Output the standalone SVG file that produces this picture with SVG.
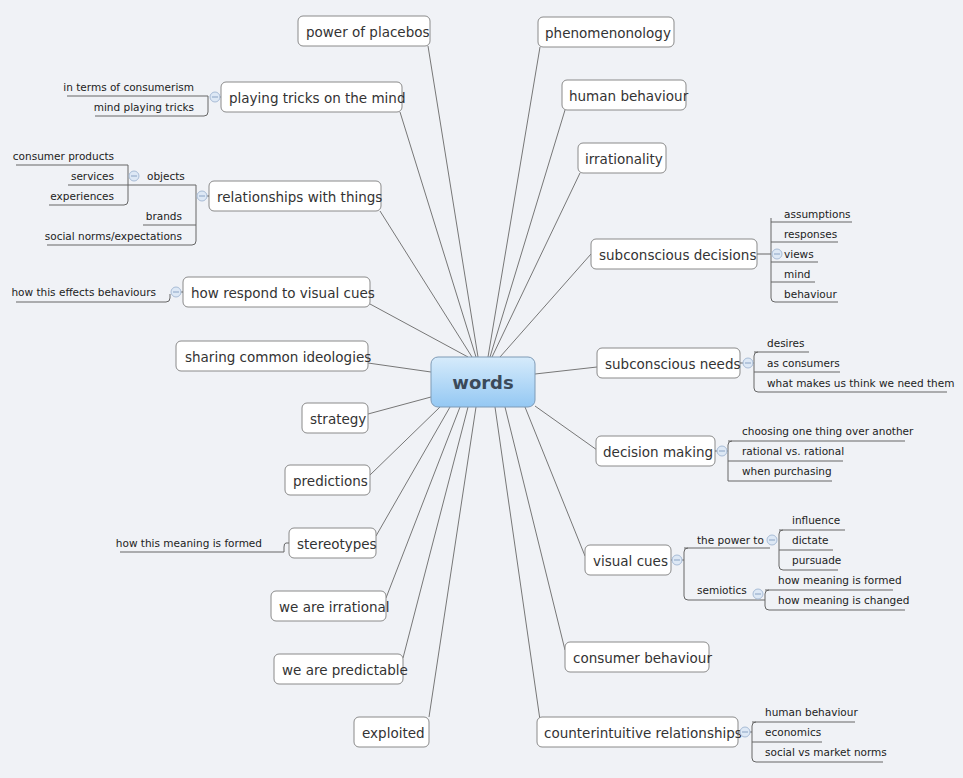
<svg xmlns="http://www.w3.org/2000/svg" width="963" height="778" viewBox="0 0 963 778">
<defs>
<linearGradient id="g" x1="0" y1="0" x2="0" y2="1"><stop offset="0" stop-color="#d6ebfb"/><stop offset="1" stop-color="#94c8f3"/></linearGradient>
<style>
.n rect{fill:#fff;stroke:#8a8a8a;stroke-width:1}
.n text{font-family:"DejaVu Sans",sans-serif;font-size:13.5px;fill:#333}
.s{font-family:"DejaVu Sans",sans-serif;font-size:10.5px;fill:#222}
.e{text-anchor:end}
.l{stroke:#777;stroke-width:1;fill:none}
.u{stroke:#666;stroke-width:1;fill:none}
.c{fill:#dde8f5;stroke:#a8bcd6;stroke-width:1}
.m{stroke:#8aa3c4;stroke-width:1}
</style>
</defs>
<rect width="963" height="778" fill="#f0f2f6"/>
<g id="connectors">
<path class="l" d="M428 46L478 357M400 112L476 357M380 211L472 357M370 304L468 357M368 363L431 372M368 414L431 397M370 475L440 407M376 536L450 407M386 598L460 407M403 658L468 407M429 717L476 407M540 47L488 357M565 110L490 357M580 173L492 357M591 254L500 357M597 367L535 374M597 450L535 406M585 556L525 407M565 650L505 407M540 720L495 407"/>
</g>
<g id="words"><rect x="431" y="357" width="104" height="50" rx="7" fill="url(#g)" stroke="#7f9bb6"/><text x="483" y="389" text-anchor="middle" font-family="DejaVu Sans,sans-serif" font-size="18" font-weight="bold" fill="#3b4a5a">words</text></g>
<g id="n1" class="n"><rect x="298" y="16" width="132" height="30" rx="5"/><text x="306" y="37">power of placebos</text></g>
<g id="n2" class="n"><rect x="221" y="82" width="181" height="30" rx="5"/><text x="229" y="103">playing tricks on the mind</text></g>
<g id="n3" class="n"><rect x="209" y="181" width="172" height="30" rx="5"/><text x="217" y="202">relationships with things</text></g>
<g id="n4" class="n"><rect x="183" y="277" width="187" height="30" rx="5"/><text x="191" y="298">how respond to visual cues</text></g>
<g id="n5" class="n"><rect x="176" y="341" width="192" height="30" rx="5"/><text x="185" y="362">sharing common ideologies</text></g>
<g id="n6" class="n"><rect x="302" y="403" width="66" height="30" rx="5"/><text x="310" y="424">strategy</text></g>
<g id="n7" class="n"><rect x="285" y="465" width="85" height="30" rx="5"/><text x="293" y="486">predictions</text></g>
<g id="n8" class="n"><rect x="289" y="528" width="87" height="30" rx="5"/><text x="297" y="549">stereotypes</text></g>
<g id="n9" class="n"><rect x="271" y="591" width="115" height="30" rx="5"/><text x="279" y="612">we are irrational</text></g>
<g id="n10" class="n"><rect x="274" y="654" width="129" height="30" rx="5"/><text x="282" y="675">we are predictable</text></g>
<g id="n11" class="n"><rect x="354" y="717" width="75" height="30" rx="5"/><text x="362" y="738">exploited</text></g>
<g id="n12" class="n"><rect x="538" y="17" width="136" height="30" rx="5"/><text x="545" y="38">phenomenonology</text></g>
<g id="n13" class="n"><rect x="562" y="80" width="124" height="30" rx="5"/><text x="569" y="101">human behaviour</text></g>
<g id="n14" class="n"><rect x="578" y="143" width="88" height="30" rx="5"/><text x="585" y="164">irrationality</text></g>
<g id="n15" class="n"><rect x="591" y="239" width="166" height="30" rx="5"/><text x="599" y="260">subconscious decisions</text></g>
<g id="n16" class="n"><rect x="597" y="348" width="143" height="30" rx="5"/><text x="605" y="369">subconscious needs</text></g>
<g id="n17" class="n"><rect x="596" y="436" width="119" height="30" rx="5"/><text x="603" y="457">decision making</text></g>
<g id="n18" class="n"><rect x="585" y="545" width="86" height="30" rx="5"/><text x="593" y="566">visual cues</text></g>
<g id="n19" class="n"><rect x="565" y="642" width="144" height="30" rx="5"/><text x="573" y="663">consumer behaviour</text></g>
<g id="n20" class="n"><rect x="537" y="717" width="201" height="30" rx="5"/><text x="544" y="738">counterintuitive relationships</text></g>
<g id="sub-left">
<path class="u" d="M221 97H215M208 96V112Q208 116 204 116H95M208 96H67"/>
<circle class="c" cx="215" cy="97" r="5"/><line class="m" x1="212" y1="97" x2="218" y2="97"/>
<text class="s e" x="194" y="91">in terms of consumerism</text><text class="s e" x="194" y="111">mind playing tricks</text>
<path class="u" d="M209 196H202M196 185V241Q196 245 192 245H47M196 185H128M196 225H143M128 165V201Q128 205 124 205H49M128 165H16M128 185H68"/>
<circle class="c" cx="202" cy="196" r="5"/><line class="m" x1="199" y1="196" x2="205" y2="196"/>
<circle class="c" cx="134" cy="176" r="5"/><line class="m" x1="131" y1="176" x2="137" y2="176"/>
<text class="s" x="147" y="180">objects</text>
<text class="s e" x="114" y="160">consumer products</text><text class="s e" x="114" y="180">services</text><text class="s e" x="114" y="200">experiences</text>
<text class="s e" x="182" y="220">brands</text><text class="s e" x="182" y="240">social norms/expectations</text>
<path class="u" d="M183 292H176M170 294V298Q170 302 166 302H16"/>
<circle class="c" cx="176" cy="292" r="5"/><line class="m" x1="173" y1="292" x2="179" y2="292"/>
<text class="s e" x="156" y="296">how this effects behaviours</text>
<path class="u" d="M289 543H286Q284 543 284 547V552H120"/>
<text class="s e" x="262" y="547">how this meaning is formed</text>
</g>
<g id="sub-right">
<path class="u" d="M757 254H771M771 218V298Q771 302 775 302H838M771 222H852M771 242H838M771 262H818M771 282H815"/>
<circle class="c" cx="777" cy="254" r="5"/><line class="m" x1="774" y1="254" x2="780" y2="254"/>
<text class="s" x="784" y="218">assumptions</text><text class="s" x="784" y="238">responses</text><text class="s" x="784" y="258">views</text><text class="s" x="784" y="278">mind</text><text class="s" x="784" y="298">behaviour</text>
<path class="u" d="M740 363H754M758 352Q754 352 754 356V388Q754 392 758 392H947M754 352H809M754 372H840"/>
<circle class="c" cx="748" cy="363" r="5"/><line class="m" x1="745" y1="363" x2="751" y2="363"/>
<text class="s" x="767" y="347">desires</text><text class="s" x="767" y="367">as consumers</text><text class="s" x="767" y="387">what makes us think we need them</text>
<path class="u" d="M715 451H728M732 441Q728 441 728 445V481H832M728 441H905M728 461H843"/>
<circle class="c" cx="722" cy="451" r="5"/><line class="m" x1="719" y1="451" x2="725" y2="451"/>
<text class="s" x="742" y="435">choosing one thing over another</text><text class="s" x="742" y="455">rational vs. rational</text><text class="s" x="742" y="475">when purchasing</text>
<path class="u" d="M671 560H684M688 548Q684 548 684 552V596Q684 600 688 600H765M684 548H770"/>
<circle class="c" cx="677" cy="560" r="5"/><line class="m" x1="674" y1="560" x2="680" y2="560"/>
<text class="s" x="697" y="544">the power to</text><text class="s" x="697" y="594">semiotics</text>
<path class="u" d="M783 530Q779 530 779 534V566Q779 570 783 570H838M779 530H845M779 550H833"/>
<circle class="c" cx="772" cy="540" r="5"/><line class="m" x1="769" y1="540" x2="775" y2="540"/>
<text class="s" x="792" y="524">influence</text><text class="s" x="792" y="544">dictate</text><text class="s" x="792" y="564">pursuade</text>
<path class="u" d="M769 590Q765 590 765 594V606Q765 610 769 610H905M765 590H893"/>
<circle class="c" cx="758" cy="594" r="5"/><line class="m" x1="755" y1="594" x2="761" y2="594"/>
<text class="s" x="778" y="584">how meaning is formed</text><text class="s" x="778" y="604">how meaning is changed</text>
<path class="u" d="M738 732H752M756 722Q752 722 752 726V758Q752 762 756 762H883M752 722H855M752 742H822"/>
<circle class="c" cx="745" cy="732" r="5"/><line class="m" x1="742" y1="732" x2="748" y2="732"/>
<text class="s" x="765" y="716">human behaviour</text><text class="s" x="765" y="736">economics</text><text class="s" x="765" y="756">social vs market norms</text>
</g>
</svg>
